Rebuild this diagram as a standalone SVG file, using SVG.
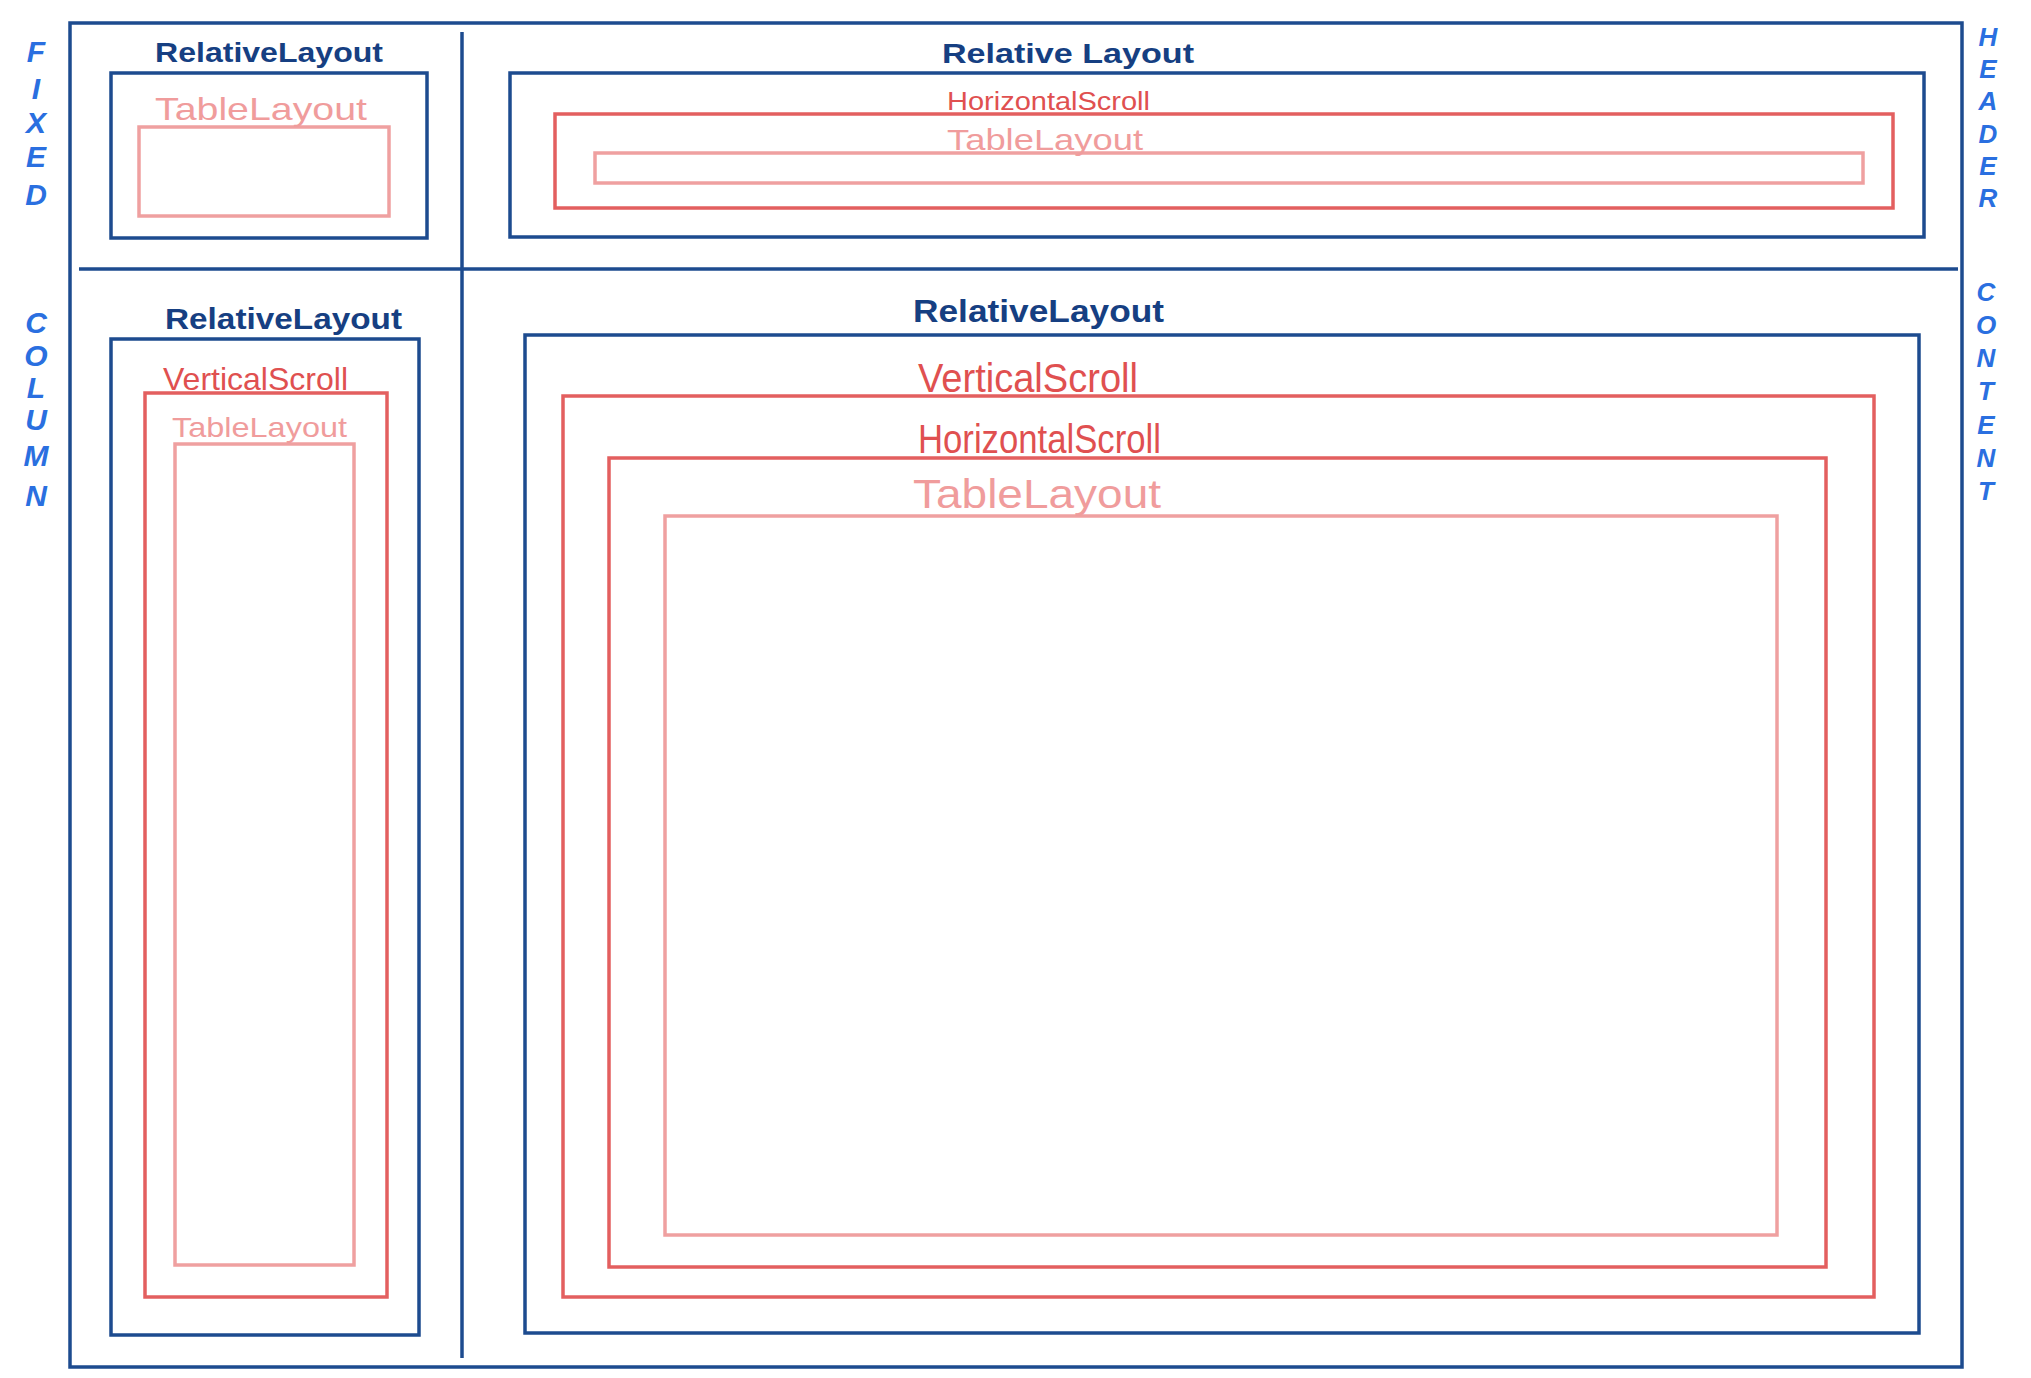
<svg xmlns="http://www.w3.org/2000/svg" width="2031" height="1378" viewBox="0 0 2031 1378">
<style>
.blue{fill:none;stroke:#1d4b8f;stroke-width:3.5}
.red{fill:none;stroke:#e35f5f;stroke-width:3.5}
.pink{fill:none;stroke:#efa0a0;stroke-width:3.5}
.tb{font-family:"Liberation Sans",Arial,sans-serif;fill:#163f82;font-weight:bold}
.tr{font-family:"Liberation Sans",Arial,sans-serif;fill:#e05050}
.tp{font-family:"Liberation Sans",Arial,sans-serif;fill:#f09c9c}
.side{font-family:"Liberation Sans",Arial,sans-serif;fill:#2a6fe0;font-weight:bold;font-style:italic;font-size:30px;text-anchor:middle}
.side2{font-family:"Liberation Sans",Arial,sans-serif;fill:#2a6fe0;font-weight:bold;font-style:italic;font-size:26px;text-anchor:middle}
</style>
<rect width="2031" height="1378" fill="#ffffff"/>
<g id="screen">
<rect class="blue" x="70" y="23" width="1892" height="1344"/>
</g>
<g id="dividers">
<line class="blue" x1="462" y1="32" x2="462" y2="1358"/>
<line class="blue" x1="79" y1="269" x2="1958" y2="269"/>
</g>
<g id="side-labels">
<text class="side"><tspan x="36" y="62">F</tspan><tspan x="36" y="99">I</tspan><tspan x="36" y="133">X</tspan><tspan x="36" y="167">E</tspan><tspan x="36" y="205">D</tspan></text>
<text class="side"><tspan x="36" y="333">C</tspan><tspan x="36" y="366">O</tspan><tspan x="36" y="398">L</tspan><tspan x="36" y="430">U</tspan><tspan x="36" y="466">M</tspan><tspan x="36" y="506">N</tspan></text>
<text class="side2"><tspan x="1988" y="46">H</tspan><tspan x="1988" y="78">E</tspan><tspan x="1988" y="110">A</tspan><tspan x="1988" y="143">D</tspan><tspan x="1988" y="175">E</tspan><tspan x="1988" y="207">R</tspan></text>
<text class="side2"><tspan x="1986" y="301">C</tspan><tspan x="1986" y="334">O</tspan><tspan x="1986" y="367">N</tspan><tspan x="1986" y="400">T</tspan><tspan x="1986" y="434">E</tspan><tspan x="1986" y="467">N</tspan><tspan x="1986" y="500">T</tspan></text>
</g>
<g id="fixed-relative">
<rect class="blue" x="111" y="73" width="316" height="165"/>
<text class="tb" x="155" y="62" font-size="28" textLength="228" lengthAdjust="spacingAndGlyphs">RelativeLayout</text>
</g>
<g id="fixed-table">
<rect class="pink" x="139" y="127" width="250" height="89"/>
<text class="tp" x="155" y="120" font-size="32" textLength="212" lengthAdjust="spacingAndGlyphs">TableLayout</text>
</g>
<g id="header-relative">
<rect class="blue" x="510" y="73" width="1414" height="164"/>
<text class="tb" x="942" y="63" font-size="28" textLength="252" lengthAdjust="spacingAndGlyphs">Relative Layout</text>
</g>
<g id="header-hscroll">
<rect class="red" x="555" y="114" width="1338" height="94"/>
<text class="tr" x="947" y="110" font-size="26" textLength="203" lengthAdjust="spacingAndGlyphs">HorizontalScroll</text>
</g>
<g id="header-table">
<rect class="pink" x="595" y="153" width="1268" height="30"/>
<text class="tp" x="947" y="150" font-size="30" textLength="196" lengthAdjust="spacingAndGlyphs">TableLayout</text>
</g>
<g id="column-relative">
<rect class="blue" x="111" y="339" width="308" height="996"/>
<text class="tb" x="165" y="329" font-size="30" textLength="237" lengthAdjust="spacingAndGlyphs">RelativeLayout</text>
</g>
<g id="column-vscroll">
<rect class="red" x="145" y="393" width="242" height="904"/>
<text class="tr" x="163" y="390" font-size="32" textLength="185" lengthAdjust="spacingAndGlyphs">VerticalScroll</text>
</g>
<g id="column-table">
<rect class="pink" x="175" y="444" width="179" height="821"/>
<text class="tp" x="172" y="437" font-size="28" textLength="175" lengthAdjust="spacingAndGlyphs">TableLayout</text>
</g>
<g id="content-relative">
<rect class="blue" x="525" y="335" width="1394" height="998"/>
<text class="tb" x="913" y="322" font-size="32" textLength="251" lengthAdjust="spacingAndGlyphs">RelativeLayout</text>
</g>
<g id="content-vscroll">
<rect class="red" x="563" y="396" width="1311" height="901"/>
<text class="tr" x="918" y="392" font-size="40" textLength="220" lengthAdjust="spacingAndGlyphs">VerticalScroll</text>
</g>
<g id="content-hscroll">
<rect class="red" x="609" y="458" width="1217" height="809"/>
<text class="tr" x="918" y="453" font-size="40" textLength="243" lengthAdjust="spacingAndGlyphs">HorizontalScroll</text>
</g>
<g id="content-table">
<rect class="pink" x="665" y="516" width="1112" height="719"/>
<text class="tp" x="913" y="508" font-size="40" textLength="248" lengthAdjust="spacingAndGlyphs">TableLayout</text>
</g>
</svg>
